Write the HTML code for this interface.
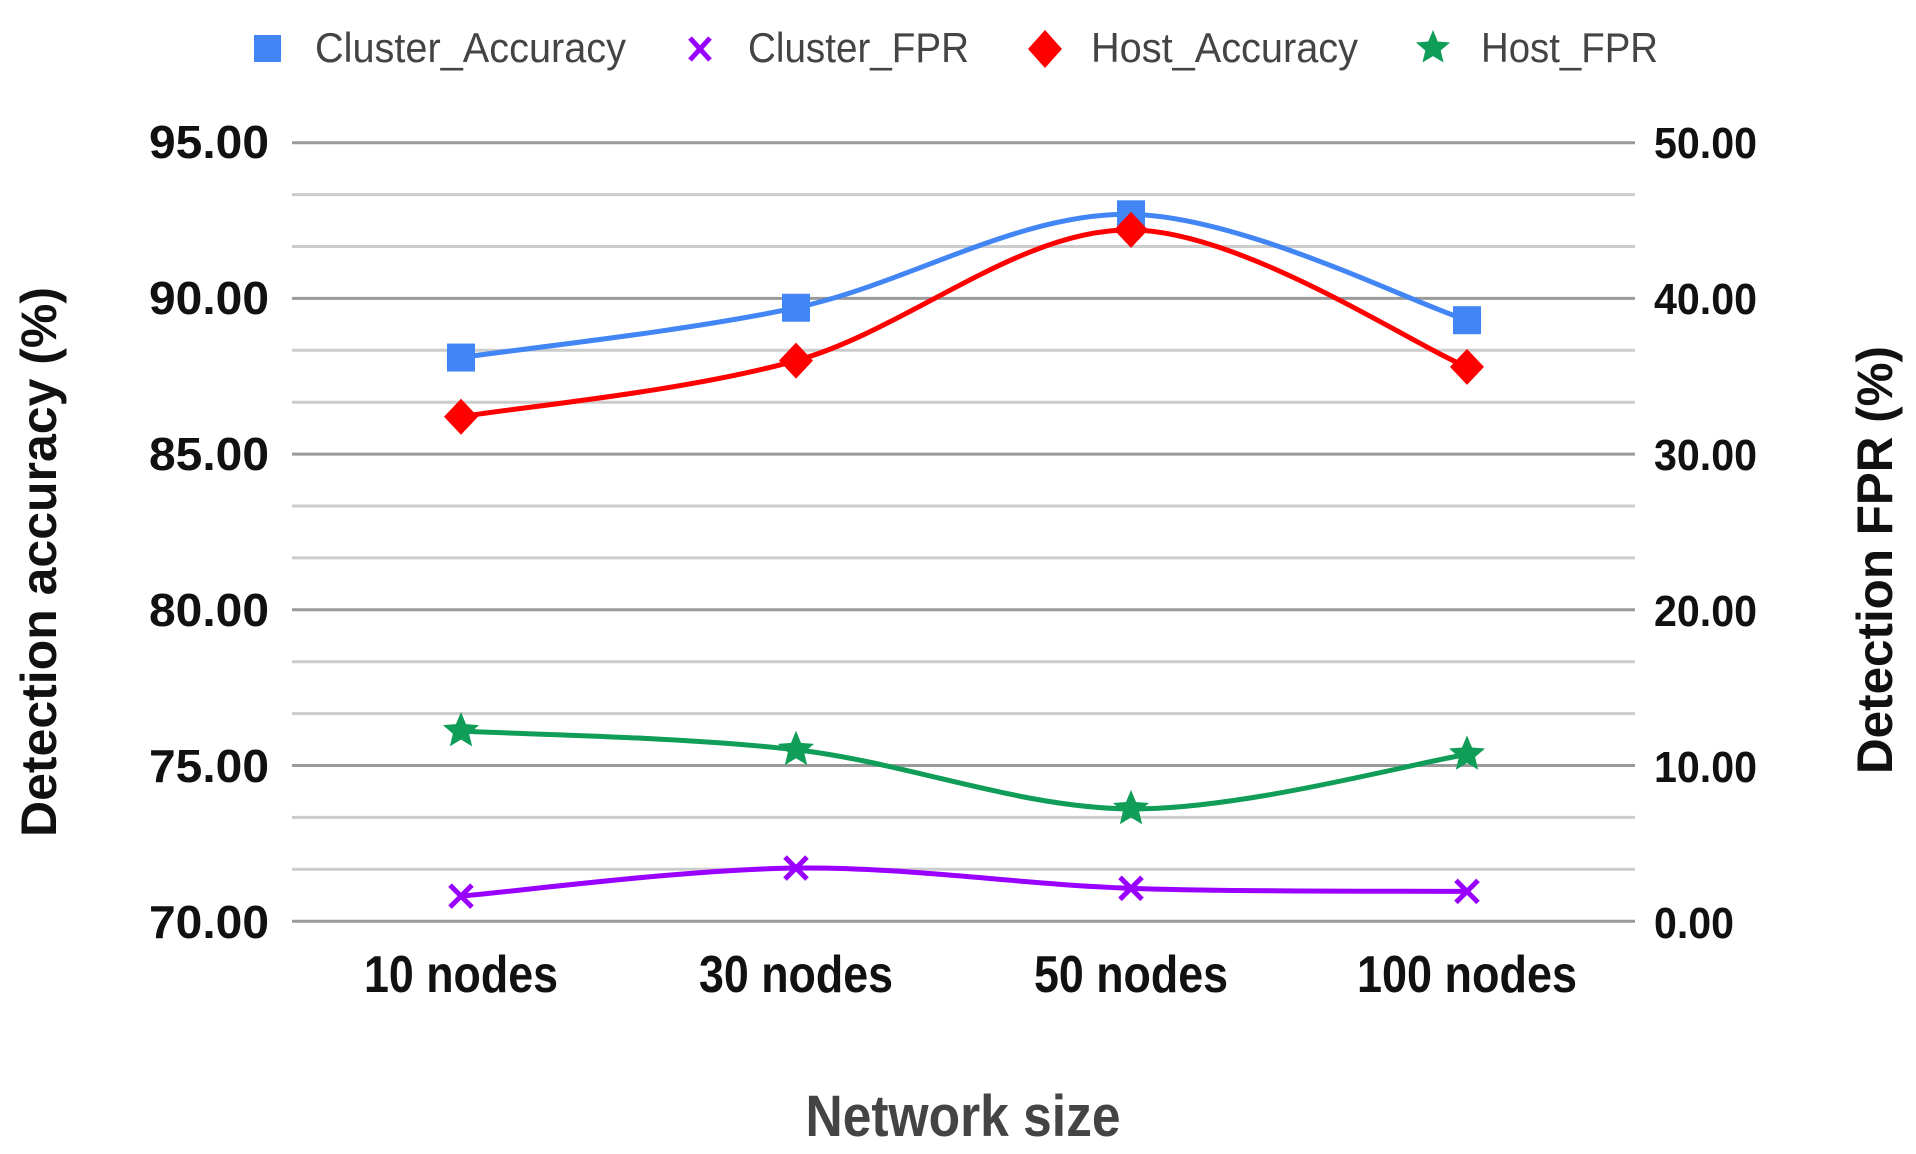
<!DOCTYPE html>
<html><head><meta charset="utf-8"><style>html,body{margin:0;padding:0;background:#fff}svg{display:block}</style></head>
<body>
<svg id="s" width="1916" height="1154" viewBox="0 0 1916 1154" xmlns="http://www.w3.org/2000/svg" font-family="Liberation Sans, sans-serif">
<g id="grid"></g>
<g font-weight="bold" font-size="46" fill="#111">
<text x="269" y="158" text-anchor="end" textLength="120" lengthAdjust="spacingAndGlyphs">95.00</text>
<text x="269" y="314" text-anchor="end" textLength="120" lengthAdjust="spacingAndGlyphs">90.00</text>
<text x="269" y="470" text-anchor="end" textLength="120" lengthAdjust="spacingAndGlyphs">85.00</text>
<text x="269" y="626" text-anchor="end" textLength="120" lengthAdjust="spacingAndGlyphs">80.00</text>
<text x="269" y="782" text-anchor="end" textLength="120" lengthAdjust="spacingAndGlyphs">75.00</text>
<text x="269" y="938" text-anchor="end" textLength="120" lengthAdjust="spacingAndGlyphs">70.00</text>
</g>
<g font-weight="bold" font-size="44" fill="#111">
<text x="1654" y="158" textLength="103" lengthAdjust="spacingAndGlyphs">50.00</text>
<text x="1654" y="314" textLength="103" lengthAdjust="spacingAndGlyphs">40.00</text>
<text x="1654" y="470" textLength="103" lengthAdjust="spacingAndGlyphs">30.00</text>
<text x="1654" y="626" textLength="103" lengthAdjust="spacingAndGlyphs">20.00</text>
<text x="1654" y="782" textLength="103" lengthAdjust="spacingAndGlyphs">10.00</text>
<text x="1654" y="938" textLength="80" lengthAdjust="spacingAndGlyphs">0.00</text>
</g>
<g font-weight="bold" font-size="52" fill="#111" text-anchor="middle">
<text x="461" y="992" textLength="194" lengthAdjust="spacingAndGlyphs">10 nodes</text>
<text x="796" y="992" textLength="194" lengthAdjust="spacingAndGlyphs">30 nodes</text>
<text x="1131" y="992" textLength="194" lengthAdjust="spacingAndGlyphs">50 nodes</text>
<text x="1467" y="992" textLength="220" lengthAdjust="spacingAndGlyphs">100 nodes</text>
</g>
<text x="963" y="1136" text-anchor="middle" font-weight="bold" font-size="58" fill="#444" textLength="315" lengthAdjust="spacingAndGlyphs">Network size</text>
<text transform="translate(56,562) rotate(-90)" text-anchor="middle" font-weight="bold" font-size="50" fill="#111" textLength="550" lengthAdjust="spacingAndGlyphs">Detection accuracy (%)</text>
<text transform="translate(1892,560) rotate(-90)" text-anchor="middle" font-weight="bold" font-size="50" fill="#111" textLength="428" lengthAdjust="spacingAndGlyphs">Detection FPR (%)</text>
<g font-size="42" fill="#444">
<rect x="254" y="35" width="27" height="27" fill="#4285f4"/>
<text x="315" y="62" textLength="311" lengthAdjust="spacingAndGlyphs">Cluster_Accuracy</text>
<g stroke="#9900ff" stroke-width="5"><line x1="690" y1="38" x2="710" y2="60"/><line x1="710" y1="38" x2="690" y2="60"/></g>
<text x="748" y="62" textLength="221" lengthAdjust="spacingAndGlyphs">Cluster_FPR</text>
<polygon points="1045,30 1062,49 1045,68 1028,49" fill="#ff0000"/>
<text x="1091" y="62" textLength="267" lengthAdjust="spacingAndGlyphs">Host_Accuracy</text>
<g id="legstar"></g>
<text x="1481" y="62" textLength="177" lengthAdjust="spacingAndGlyphs">Host_FPR</text>
</g>
<g id="series"></g>
</svg>
<script>
var NS="http://www.w3.org/2000/svg";
function el(p,t,a){var e=document.createElementNS(NS,t);for(var k in a)e.setAttribute(k,a[k]);p.appendChild(e);return e;}
var g=document.getElementById('grid');
for(var i=0;i<=15;i++){var y=142.7+i*51.9;var major=(i%3==0);
el(g,'line',{x1:292,x2:1635,y1:y,y2:y,stroke:major?'#9a9a9a':'#cccccc','stroke-width':3});}
var xs=[461,796,1131,1467];
function ya(v){return 142.7+(95-v)*31.14;}
function yf(v){return 921-v*15.57;}
function path(pts){var d='M'+pts[0][0]+','+pts[0][1];var t=0.5;
for(var i=0;i<pts.length-1;i++){var p0=pts[i-1]||pts[i],p1=pts[i],p2=pts[i+1],p3=pts[i+2]||p2;
var c1=[p1[0]+(p2[0]-p0[0])*t/3,p1[1]+(p2[1]-p0[1])*t/3];var c2=[p2[0]-(p3[0]-p1[0])*t/3,p2[1]-(p3[1]-p1[1])*t/3];
d+=' C'+c1+' '+c2+' '+p2;}return d;}
function star(p,cx,cy,r,c){var s='';for(var i=0;i<10;i++){var a=-Math.PI/2+i*Math.PI/5;var rr=i%2?r*0.45:r;s+=(cx+rr*Math.cos(a))+','+(cy+rr*Math.sin(a))+' ';}el(p,'polygon',{points:s,fill:c});}
var S=document.getElementById('series');
var data=[
{v:[88.1,89.7,92.7,89.3],f:ya,c:'#4285f4',m:'sq'},
{v:[86.2,88.0,92.2,87.8],f:ya,c:'#ff0000',m:'di'},
{v:[12.2,11.0,7.2,10.7],f:yf,c:'#0f9d58',m:'st'},
{v:[1.6,3.4,2.1,1.9],f:yf,c:'#9900ff',m:'x'}];
data.forEach(function(s){var pts=s.v.map(function(v,i){return [xs[i],s.f(v)];});
el(S,'path',{d:path(pts),fill:'none',stroke:s.c,'stroke-width':5,'stroke-linejoin':'round'});
pts.forEach(function(p){
if(s.m=='sq')el(S,'rect',{x:p[0]-14,y:p[1]-14,width:28,height:28,fill:s.c});
else if(s.m=='di')el(S,'polygon',{points:[p[0],p[1]-18,p[0]+17,p[1],p[0],p[1]+18,p[0]-17,p[1]].join(' '),fill:s.c});
else if(s.m=='st')star(S,p[0],p[1],19,s.c);
else{el(S,'line',{x1:p[0]-11,y1:p[1]-11,x2:p[0]+11,y2:p[1]+11,stroke:s.c,'stroke-width':5});el(S,'line',{x1:p[0]+11,y1:p[1]-11,x2:p[0]-11,y2:p[1]+11,stroke:s.c,'stroke-width':5});}
});});
star(document.getElementById('legstar'),1433,48,18,'#0f9d58');
</script>
</body></html>
